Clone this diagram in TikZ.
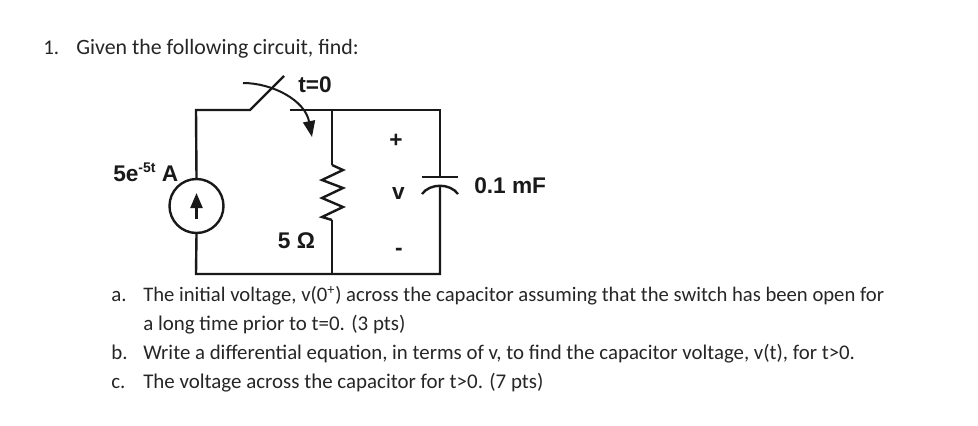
\documentclass[tikz,border=0pt]{standalone}
\usepackage{fontspec}
\setmainfont{Carlito}
\newfontfamily\lab{Liberation Sans}
\usetikzlibrary{arrows.meta}
\tikzset{
  wire/.style={line width=1.8pt,draw=black!90},
  body/.style={inner sep=0pt,anchor=base west,font=\fontsize{15.7}{18}\selectfont,text=black!85},
  clab/.style={inner sep=0pt,anchor=base,font=\lab\bfseries\fontsize{17}{20}\selectfont,text=black!90},
}
\begin{document}
\begin{tikzpicture}[x=0.75pt,y=-0.75pt]
\useasboundingbox (0,0) rectangle (978,425);
\fill[white] (0,0) rectangle (978,425);
% body text
\node[body] (n1) at (43,54) {1.};
\node[body,font=\fontsize{16.4}{18}\selectfont] (t1) at (76,54) {Given the following circuit, find:};
\node[body] (na) at (111,301) {a.};
\node[body,font=\fontsize{15.5}{18}\selectfont] (ta) at (143,301) {The initial voltage, v(0\textsuperscript{+}) across the capacitor assuming that the switch has been open for};
\node[body] (ta2) at (143,330) {a long time prior to t=0.  (3 pts)};
\node[body] (nb) at (111,359) {b.};
\node[body,font=\fontsize{15.63}{18}\selectfont] (tb) at (143,359) {Write a differential equation, in terms of v, to find the capacitor voltage, v(t), for t>0.};
\node[body] (nc) at (111,388) {c.};
\node[body] (tc) at (143,388) {The voltage across the capacitor for t>0.  (7 pts)};
% circuit points
\coordinate (tl) at (196,110);
\coordinate (sa) at (250,110);
\coordinate (sb) at (284,76);
\coordinate (sc) at (290,110);
\coordinate (tm) at (332,110);
\coordinate (tr) at (440,110);
\coordinate (bl) at (196,274);
\coordinate (bm) at (332,274);
\coordinate (br) at (440,274);
\coordinate (ra) at (332,165);
\coordinate (rb) at (332,220);
\coordinate (ca) at (440,177);
\coordinate (cb) at (440,186);
\coordinate (aa) at (243,83);
\coordinate (ab) at (312,137);
\node[circle,draw=black!90,line width=1.8pt,minimum size=54pt*0.75,inner sep=0pt] (src) at (196.5,206) {};
\coordinate (ia) at (196.5,219);
\coordinate (ib) at (196.5,193);
% wires
\draw[wire,line join=miter] (src.north) -- (tl) -- (sa) -- (sb);
\draw[wire] (sc) -- (tr) -- (ca);
\draw[wire] (cb) -- (br) -- (bl) -- (src.south);
\draw[wire] (tm) -- (ra);
\draw[wire] (rb) -- (bm);
\draw[wire,line join=miter] (ra) -- (343,170) -- (322,180) -- (343,188) -- (322,198) -- (343,207) -- (322,217) -- (rb);
% capacitor
\draw[wire] (422,177) -- (458,177);
\draw[wire] (422,194) .. controls (430,183) and (450,183) .. (458,194);
% arrows
\draw[line width=1.8pt,draw=black!90,-{Triangle[length=15pt*0.75,width=12pt*0.75]}] (ia) -- (ib);
\draw[line width=1.5pt,draw=black!90,-{Triangle[length=16pt*0.75,width=12pt*0.75]}] (aa) .. controls (272,83) and (305,100) .. (ab);
% labels
\node[clab] (tz) at (315,92) {t=0};
\node[clab,anchor=base west] (cur) at (113,181) {5e\raisebox{6.5pt}{\fontsize{10.5}{12}\selectfont -5t} A};
\node[clab] (rl) at (296.5,248) {5 Ω};
\node[clab] (pl) at (396,147) {+};
\node[clab] (vl) at (398.5,199) {v};
\node[clab] (mi) at (399,255) {-};
\node[clab,anchor=base west] (cl) at (474,193) {0.1 mF};
\end{tikzpicture}
\end{document}
